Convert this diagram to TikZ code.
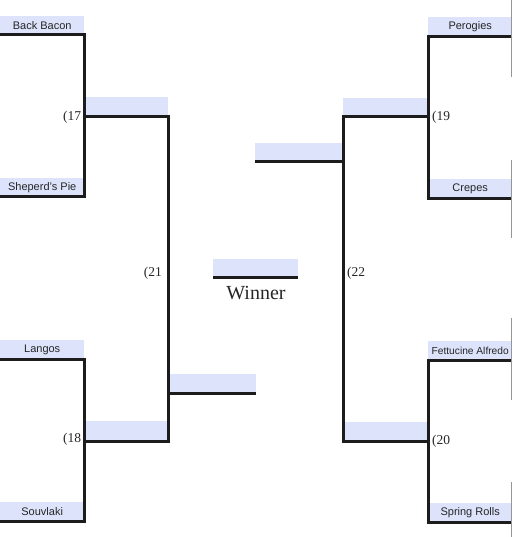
\documentclass[tikz,border=0pt]{standalone}
\usepackage{fontspec}
\setmainfont{Liberation Serif}
\setsansfont{Liberation Sans}
\definecolor{boxfill}{RGB}{220,227,251}
\definecolor{linecol}{RGB}{28,28,28}
\definecolor{edgecol}{RGB}{150,150,150}
\tikzset{
  slot/.style={fill=boxfill, draw=none, inner sep=0pt, anchor=north west, text=black!85,
    font=\sffamily\fontsize{11}{13}\selectfont},
  bracket/.style={draw=linecol, line width=3pt, line join=miter},
  numlab/.style={font=\fontsize{13.5}{15}\selectfont, inner sep=0pt, text=black!85},
  edgeline/.style={draw=edgecol, line width=0.8pt},
}
\newcommand{\slotbox}[6]{% name, x1, y1, x2, y2, text
  \node[slot, minimum width=#4pt-#2pt, minimum height=#5pt-#3pt] (#1) at (#2,#3) {#6};}
\begin{document}
\begin{tikzpicture}[x=1pt,y=-1pt]
\useasboundingbox (0,0) rectangle (512,537);
% left side, round 1
\slotbox{bb}{0}{16}{84}{34.5}{Back Bacon}
\slotbox{sp}{0}{178}{84}{196.5}{Sheperd's Pie}
\slotbox{la}{0}{340}{84}{359}{Langos}
\slotbox{so}{0}{502}{84}{521}{Souvlaki}
% left round 2 and 3
\slotbox{r1}{86}{97}{168}{116}{}
\slotbox{r2}{86}{421}{168}{441}{}
\slotbox{r3}{170}{374}{256}{393}{}
% right side, round 1
\slotbox{pe}{428}{17}{512}{36}{Perogies}
\slotbox{cr}{428}{179}{512}{198}{Crepes}
\node[slot, minimum width=84pt, minimum height=19pt, font=\sffamily\fontsize{10.2}{12}\selectfont] (fa) at (428,341) {Fettucine Alfredo};
\slotbox{spr}{428}{503}{512}{522}{Spring Rolls}
% right round 2 and 3
\slotbox{r4}{343}{98}{428}{116}{}
\slotbox{r5}{343}{422}{428}{441}{}
\slotbox{r6}{255}{143}{342}{161}{}
% winner
\slotbox{w}{213}{259}{298}{277}{}
\node[font=\fontsize{20}{22}\selectfont, inner sep=0pt, anchor=base, text=black!85] (wt) at (256,299) {Winner};

% bracket lines, left
\draw[bracket] (bb.south west) -- (bb.south east) -- (sp.south east) -- (sp.south west);
\draw[bracket] (la.south west) -- (la.south east) -- (so.south east) -- (so.south west);
\draw[bracket] (r1.south -| bb.east) -- (r1.south east) -- (r2.south east) -- (r2.south -| la.east);
\draw[bracket] (r3.south -| r1.east) -- (r3.south east);
% bracket lines, right
\draw[bracket] (pe.south east) -- (pe.south west) -- (cr.south west) -- (cr.south east);
\draw[bracket] (fa.south east) -- (fa.south west) -- (spr.south west) -- (spr.south east);
\draw[bracket] (r4.south -| pe.west) -- (r4.south west) -- (r5.south west) -- (r5.south -| fa.west);
\draw[bracket] (r6.south west) -- (r6.south -| r4.west);
\draw[bracket] (w.south west) -- (w.south east);

% game numbers
\node[numlab, anchor=east] (n17) at ([xshift=-3pt,yshift=-1pt]r1.south -| bb.east) {(17};
\node[numlab, anchor=east] (n18) at ([xshift=-3pt,yshift=2.5pt]r2.south -| la.east) {(18};
\node[numlab, anchor=east] (n21) at (162,273) {(21};
\node[numlab, anchor=west] (n19) at ([xshift=4pt,yshift=-1pt]r4.south -| pe.west) {(19};
\node[numlab, anchor=west] (n20) at ([xshift=4pt,yshift=0pt]r5.south -| fa.west) {(20};
\node[numlab, anchor=west] (n22) at (347,273) {(22};

% thin grey edge lines at right border
\coordinate (e1a) at (511,0);   \coordinate (e1b) at (511,77);
\coordinate (e2a) at (511,160); \coordinate (e2b) at (511,238);
\coordinate (e3a) at (511,318); \coordinate (e3b) at (511,400);
\coordinate (e4a) at (511,482); \coordinate (e4b) at (511,537);
\draw[edgeline] (e1a) -- (e1b);
\draw[edgeline] (e2a) -- (e2b);
\draw[edgeline] (e3a) -- (e3b);
\draw[edgeline] (e4a) -- (e4b);
\end{tikzpicture}
\end{document}
